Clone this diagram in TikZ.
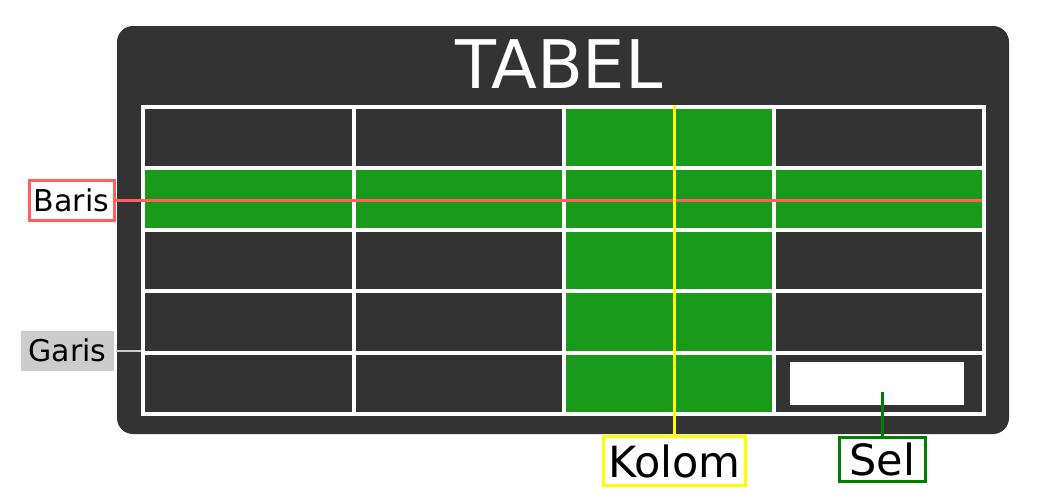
\documentclass[tikz,border=0pt]{standalone}
\usepackage{fontspec}
\setsansfont{DejaVu Sans}
\definecolor{paneldark}{HTML}{333333}
\definecolor{cellgreen}{HTML}{1A9A1B}
\definecolor{barisred}{HTML}{FF5F5F}
\definecolor{kolomyellow}{HTML}{FFFF00}
\definecolor{selgreen}{HTML}{008000}
\definecolor{garisgray}{HTML}{CCCCCC}
\begin{document}
\begin{tikzpicture}[x=1pt, y=-1pt]
    \useasboundingbox (0,0) rectangle (1039,501);
    % Define Styles
        \tikzstyle{panel} = [
            rectangle,
            fill = paneldark,
            rounded corners = 16pt,
            minimum width = 892,
            minimum height = 408,
            inner sep = 0pt
        ]
        \tikzstyle{cell} = [
            rectangle,
            fill = cellgreen,
            inner sep = 0pt
        ]
        \tikzstyle{tag} = [
            rectangle,
            draw,
            line width = 3pt,
            inner sep = 0pt,
            text = black,
            font = \sffamily\fontsize{30}{30}\selectfont
        ]
        \tikzstyle{gridline} = [
            draw = white,
            line width = 4pt
        ]
        \tikzstyle{pointer} = [
            draw,
            line width = 3pt
        ]
    % Place nodes
        \node [panel] (panel) at (563,230) {};
        \node [font = \sffamily\fontsize{67}{67}\selectfont, text = white, anchor = base] (title) at (559,88) {TABEL};
        \node [cell, minimum width = 841, minimum height = 61.4] (row) at (563.5,199.1) {};
        \node [cell, minimum width = 210, minimum height = 307] (column) at (669,260.5) {};
        \node [rectangle, fill = white, inner sep = 0pt, minimum width = 174, minimum height = 43] (selcell) at (877,383.5) {};
        \node [rectangle, draw = white, line width = 4pt, inner sep = 0pt, minimum width = 841, minimum height = 307] (grid) at (563.5,260.5) {};
        \node [tag, draw = barisred, fill = white, minimum width = 85, minimum height = 40] (baris) at (71.5,200.8) {Baris};
        \node [tag, draw = none, fill = garisgray, minimum width = 93, minimum height = 40] (garis) at (67.5,350.5) {Garis};
        \node [tag, draw = kolomyellow, fill = white, minimum width = 142, minimum height = 49, font = \sffamily\fontsize{43}{43}\selectfont] (kolom) at (674.5,461) {Kolom};
        \node [tag, draw = selgreen, fill = white, minimum width = 86, minimum height = 44, font = \sffamily\fontsize{43}{43}\selectfont] (sel) at (882.5,459.5) {Sel};
        \coordinate (selend) at (882.5,392);
    % Draw grid lines
        \path [gridline] (354,107) -- (354,414);
        \path [gridline] (564,107) -- (564,414);
        \path [gridline] (774,107) -- (774,414);
        \path [gridline] (143,168.4) -- (984,168.4);
        \path [gridline] (143,229.8) -- (984,229.8);
        \path [gridline] (143,291.2) -- (984,291.2);
        \path [gridline] (143,352.6) -- (984,352.6);
    % Draw edges
        \path [pointer, draw = barisred] (baris.east) -- ([xshift=-2pt]baris.east -| row.east);
        \path [pointer, draw = kolomyellow] (kolom.north) -- (kolom.north |- grid.north);
        \path [pointer, draw = selgreen] (sel.north) -- (selend);
        \path [pointer, draw = garisgray, line width = 2pt] (garis.east) -- (garis.east -| grid.west);
\end{tikzpicture}
\end{document}
